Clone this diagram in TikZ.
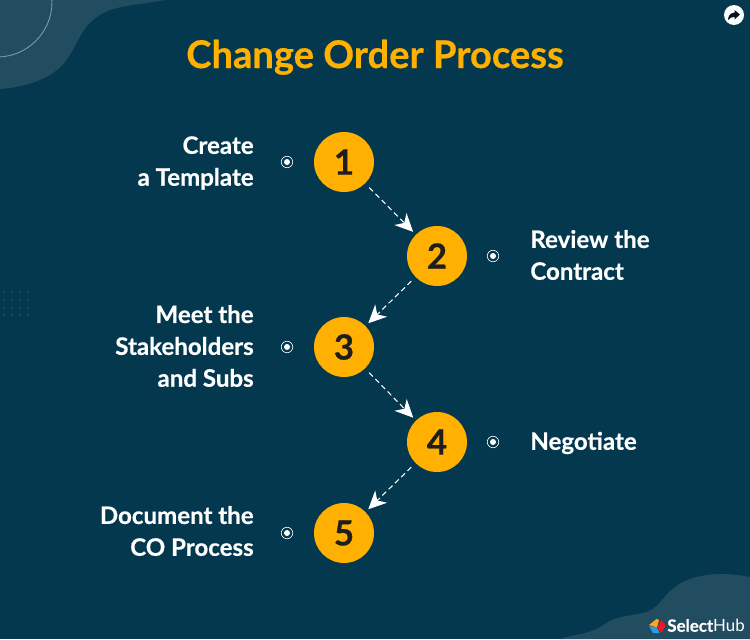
\documentclass[tikz,border=0pt]{standalone}
\usepackage{fontspec}
\setmainfont{Lato}[BoldFeatures={FakeBold=0.5}]
\usepackage{xcolor}
\usetikzlibrary{arrows.meta, positioning}
\definecolor{bgblue}{HTML}{03384E}
\definecolor{blobblue}{HTML}{224D60}
\definecolor{ringblue}{HTML}{7F9AA6}
\definecolor{stepyellow}{HTML}{FFB000}
\definecolor{digitblack}{HTML}{1E1E1E}
\definecolor{logoorange}{HTML}{FFA51F}
\definecolor{logored}{HTML}{F5141E}
\definecolor{logoblue}{HTML}{2C9AEA}
\tikzset{
  stepnode/.style={circle, fill=stepyellow, minimum size=1.2cm, inner sep=0pt, outer sep=0pt,
    text=digitblack, font=\fontsize{19.8}{24}\selectfont\bfseries},
  bulletnode/.style={circle, draw=white, line width=0.35pt, minimum size=0.23cm, inner sep=0pt,
    path picture={\fill[white] (path picture bounding box.center) circle (0.06cm);}},
  leftlabel/.style={anchor=east, align=right, inner sep=0pt, text=white, font=\fontsize{13.7}{18.14}\selectfont\bfseries},
  rightlabel/.style={anchor=west, align=left, inner sep=0pt, text=white, font=\fontsize{13.7}{18.14}\selectfont\bfseries},
  flow/.style={draw=white, line width=0.6pt, dash pattern=on 3pt off 2pt, shorten <=0.12cm, shorten >=0.08cm,
    -{Stealth[length=0.36cm, width=0.34cm, inset=0.11cm, fill=white]}},
}
\begin{document}
\begin{tikzpicture}[x=0.02cm, y=-0.02cm]
  % background
  \fill[bgblue] (0,0) rectangle (750,639);
  \useasboundingbox (0,0) rectangle (750,639);
  \fill[blobblue] (0,0) -- (165,0) .. controls (140,5) and (115,5) .. (100,15)
    .. controls (80,27) and (80,42) .. (65,62) .. controls (50,80) and (25,87) .. (0,89) -- cycle;
  \begin{scope}
    \clip (0,0) rectangle (60,60);
    \draw[ringblue, line width=0.5pt] (-3,2) circle (55);
  \end{scope}
  \fill[blobblue] (750,639) -- (560,639) .. controls (575,634) and (592,634) .. (605,624)
    .. controls (615,616) and (632,616) .. (647,612) .. controls (662,606) and (665,590) .. (685,581)
    .. controls (705,572) and (730,573) .. (750,577) -- cycle;
  % dots on the left
  \foreach \dotx in {4,12,20,28}
    \foreach \doty in {292,300,308,315}
      \fill[blobblue!70!white, opacity=0.5] (\dotx,\doty) circle (0.8);

  \node[anchor=base, text=stepyellow, font=\fontsize{21.7}{26}\selectfont\bfseries] (title) at (375,68) {Change Order Process};

  % steps
  \node[stepnode] (one) at (344,162) {1};
  \node[stepnode] (two) at (437,256) {2};
  \node[stepnode] (three) at (344,347) {3};
  \node[stepnode] (four) at (437,442) {4};
  \node[stepnode] (five) at (344,533) {5};
  \draw[flow] (one) -- (two);
  \draw[flow] (two) -- (three);
  \draw[flow] (three) -- (four);
  \draw[flow] (four) -- (five);

  % bullets and labels
  \node[bulletnode] (bone) at (287,162) {};
  \node[bulletnode] (btwo) at (493,256) {};
  \node[bulletnode] (bthree) at (287,347) {};
  \node[bulletnode] (bfour) at (493,442) {};
  \node[bulletnode] (bfive) at (287,533) {};
  \node[leftlabel] (lone) at (254,163) {Create\\a Template};
  \node[rightlabel] (ltwo) at (530,255) {Review the\\Contract};
  \node[leftlabel] (lthree) at (254,346) {Meet the\\Stakeholders\\and Subs};
  \node[rightlabel] (lfour) at (530,443) {Negotiate};
  \node[leftlabel] (lfive) at (254,531) {Document the\\CO Process};

  % share icon
  \node[circle, fill=white, minimum size=0.4cm, inner sep=0pt] (share) at (734,15) {};
  \fill[bgblue!40!black] (740,14.5) -- (734.5,10) -- (734.5,12.5) .. controls (730,13) and (728,16) .. (728,20)
    .. controls (730,17.5) and (732,17) .. (734.5,17) -- (734.5,19.5) -- cycle;

  % logo
  \fill[logoorange] (649,625) -- (656.5,619) -- (659,620) -- (657,627.5) -- cycle;
  \fill[logoblue] (649,626) -- (657,627.5) -- (659.5,633) -- (653,633) -- cycle;
  \fill[logored] (661.5,620) -- (665.5,626) -- (661,633) -- (657.5,627) -- cycle;
  \node[anchor=west, inner sep=0pt, text=white, font=\fontsize{9.6}{11}\selectfont] (logo) at (667,625.5) {\textbf{Select}Hub};
\end{tikzpicture}
\end{document}
